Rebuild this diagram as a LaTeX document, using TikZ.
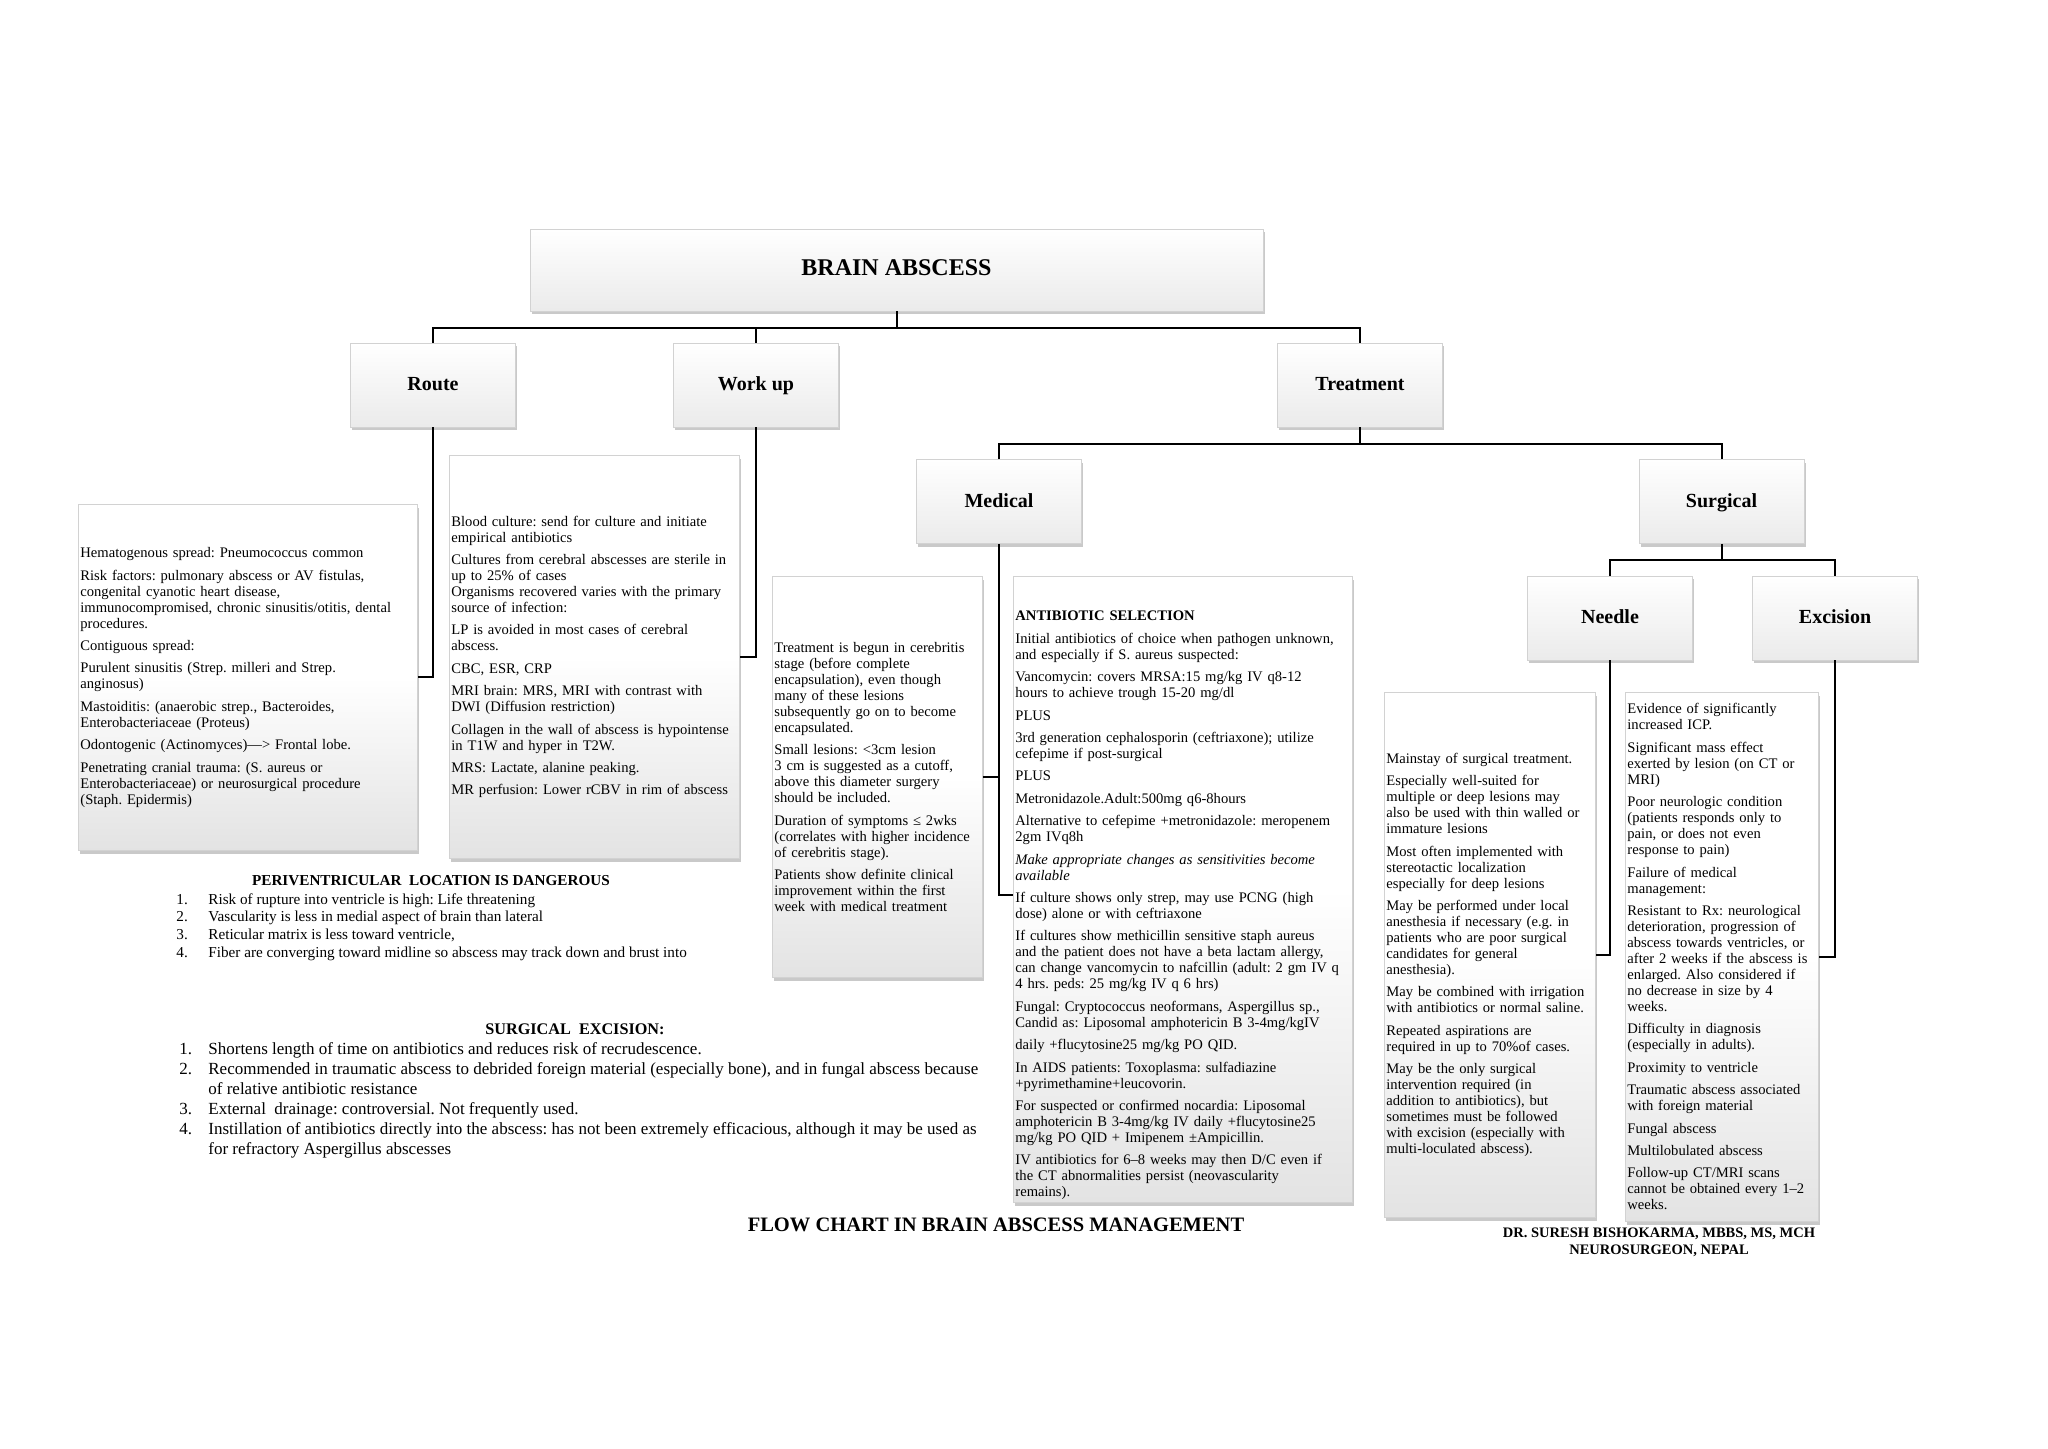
\documentclass[tikz,border=0pt]{standalone}
\usepackage{fontspec}
\setmainfont{Liberation Serif}
\frenchspacing
\hyphenpenalty=10000
\usetikzlibrary{shadows}

\begin{document}
\begin{tikzpicture}[x=0.5pt,y=-0.5pt,
head/.style={draw=gray!35,top color=white,bottom color=gray!16,drop shadow={shadow xshift=0.8pt,shadow yshift=-1.6pt,fill=gray!70,opacity=0.6},minimum width=82.5pt,minimum height=42pt,text height=1.6ex,text depth=0.3ex,font=\fontsize{10}{12}\selectfont\bfseries},
txt/.style={draw=gray!35,top color=white,bottom color=gray!22,middle color=white,drop shadow={shadow xshift=0.8pt,shadow yshift=-1.6pt,fill=gray!70,opacity=0.6},anchor=north west,align=left,inner xsep=1pt,inner ysep=2pt,font=\fontsize{7.3}{8}\selectfont},
conn/.style={line width=1pt}]
\useasboundingbox (0,0) rectangle (2048,1448);
\fill[white] (0,0) rectangle (2048,1448);
\node[head,minimum width=366.5pt,minimum height=41pt,font=\fontsize{12}{14}\selectfont\bfseries] (brain) at (896.5,270) {BRAIN ABSCESS};
\node[head] (route) at (433,385) {Route};
\node[head] (workup) at (756,385) {Work up};
\node[head] (treat) at (1360,385) {Treatment};
\node[head] (medical) at (999,501.5) {Medical};
\node[head] (surgical) at (1721.5,501.5) {Surgical};
\node[head] (needle) at (1610,618) {Needle};
\node[head] (excision) at (1835,618) {Excision};
\node[txt,text width=167.5pt,minimum height=173pt] (routetxt) at (78,504) {Hematogenous spread: Pneumococcus common\\[3.2pt]
Risk factors: pulmonary abscess or AV fistulas,\\congenital cyanotic heart disease,\\immunocompromised, chronic sinusitis/otitis, dental\\procedures.\\[3.2pt]
Contiguous spread:\\[3.2pt]
Purulent sinusitis (Strep. milleri and Strep.\\anginosus)\\[3.2pt]
Mastoiditis: (anaerobic strep., Bacteroides,\\Enterobacteriaceae (Proteus)\\[3.2pt]
Odontogenic (Actinomyces)—> Frontal lobe.\\[3.2pt]
Penetrating cranial trauma: (S. aureus or\\Enterobacteriaceae) or neurosurgical procedure\\(Staph. Epidermis)};
\node[txt,text width=143pt,minimum height=201.5pt] (worktxt) at (449,455) {Blood culture: send for culture and initiate\\empirical antibiotics\\[3.2pt]
Cultures from cerebral abscesses are sterile in\\up to 25\% of cases\\Organisms recovered varies with the primary\\source of infection:\\[3.2pt]
LP is avoided in most cases of cerebral\\abscess.\\[3.2pt]
CBC, ESR, CRP\\[3.2pt]
MRI brain: MRS, MRI with contrast with\\DWI (Diffusion restriction)\\[3.2pt]
Collagen in the wall of abscess is hypointense\\in T1W and hyper in T2W.\\[3.2pt]
MRS: Lactate, alanine peaking.\\[3.2pt]
MR perfusion: Lower rCBV in rim of abscess};
\node[txt,text width=103pt,minimum height=200.5pt] (medtxt) at (772,576) {Treatment is begun in cerebritis\\stage (before complete\\encapsulation), even though\\many of these lesions\\subsequently go on to become\\encapsulated.\\[3.2pt]
Small lesions: <3cm lesion\\3 cm is suggested as a cutoff,\\above this diameter surgery\\should be included.\\[3.2pt]
Duration of symptoms ≤ 2wks\\(correlates with higher incidence\\of cerebritis stage).\\[3.2pt]
Patients show definite clinical\\improvement within the first\\week with medical treatment};
\node[txt,text width=167.5pt,minimum height=313pt,inner ysep=0pt] (abxtxt) at (1013,576) {\rule{0pt}{21pt}\textbf{ANTIBIOTIC SELECTION}\\[3.2pt]
Initial antibiotics of choice when pathogen unknown,\\and especially if S. aureus suspected:\\[3.2pt]
Vancomycin: covers MRSA:15 mg/kg IV q8-12\\hours to achieve trough 15-20 mg/dl\\[3.2pt]
PLUS\\[3.2pt]
3rd generation cephalosporin (ceftriaxone); utilize\\cefepime if post-surgical\\[3.2pt]
PLUS\\[3.2pt]
Metronidazole.Adult:500mg q6-8hours\\[3.2pt]
Alternative to cefepime +metronidazole: meropenem\\2gm IVq8h\\[3.2pt]
\textit{Make appropriate changes as sensitivities become}\\\textit{available}\\[3.2pt]
If culture shows only strep, may use PCNG (high\\dose) alone or with ceftriaxone\\[3.2pt]
If cultures show methicillin sensitive staph aureus\\and the patient does not have a beta lactam allergy,\\can change vancomycin to nafcillin (adult: 2 gm IV q\\4 hrs. peds: 25 mg/kg IV q 6 hrs)\\[3.2pt]
Fungal: Cryptococcus neoformans, Aspergillus sp.,\\Candid as: Liposomal amphotericin B 3-4mg/kgIV\\[3.2pt]
daily +flucytosine25 mg/kg PO QID.\\[3.2pt]
In AIDS patients: Toxoplasma: sulfadiazine\\+pyrimethamine+leucovorin.\\[3.2pt]
For suspected or confirmed nocardia: Liposomal\\amphotericin B 3-4mg/kg IV daily +flucytosine25\\mg/kg PO QID + Imipenem ±Ampicillin.\\[3.2pt]
IV antibiotics for 6–8 weeks may then D/C even if\\the CT abnormalities persist (neovascularity\\remains).};
\node[txt,text width=103.5pt,minimum height=262.5pt] (needletxt) at (1384,692) {Mainstay of surgical treatment.\\[3.2pt]
Especially well-suited for\\multiple or deep lesions may\\also be used with thin walled or\\immature lesions\\[3.2pt]
Most often implemented with\\stereotactic localization\\especially for deep lesions\\[3.2pt]
May be performed under local\\anesthesia if necessary (e.g. in\\patients who are poor surgical\\candidates for general\\anesthesia).\\[3.2pt]
May be combined with irrigation\\with antibiotics or normal saline.\\[3.2pt]
Repeated aspirations are\\required in up to 70\%of cases.\\[3.2pt]
May be the only surgical\\intervention required (in\\addition to antibiotics), but\\sometimes must be followed\\with excision (especially with\\multi-loculated abscess).};
\node[txt,text width=94.5pt,minimum height=264.5pt] (exctxt) at (1625,692) {Evidence of significantly\\increased ICP.\\[3.2pt]
Significant mass effect\\exerted by lesion (on CT or\\MRI)\\[3.2pt]
Poor neurologic condition\\(patients responds only to\\pain, or does not even\\response to pain)\\[3.2pt]
Failure of medical\\management:\\[3.2pt]
Resistant to Rx: neurological\\deterioration, progression of\\abscess towards ventricles, or\\after 2 weeks if the abscess is\\enlarged. Also considered if\\no decrease in size by 4\\weeks.\\[3.2pt]
Difficulty in diagnosis\\(especially in adults).\\[3.2pt]
Proximity to ventricle\\[3.2pt]
Traumatic abscess associated\\with foreign material\\[3.2pt]
Fungal abscess\\[3.2pt]
Multilobulated abscess\\[3.2pt]
Follow-up CT/MRI scans\\cannot be obtained every 1–2\\weeks.};
\draw[conn] (brain.south) -- ++(0,17) coordinate (bar);
\draw[conn] (route.north) |- (bar) -| (treat.north);
\draw[conn] (workup.north) -- (workup.north |- bar);
\draw[conn] (treat.south) -- ++(0,17) coordinate (tbar);
\draw[conn] (medical.north) |- (tbar) -| (surgical.north);
\draw[conn] (surgical.south) -- ++(0,16) coordinate (sbar);
\draw[conn] (needle.north) |- (sbar) -| (excision.north);
\draw[conn] (route.south) |- (routetxt.east);
\draw[conn] (workup.south) |- (worktxt.east);
\draw[conn] (medical.south) |- ([yshift=-3pt]abxtxt.west);
\draw[conn] (medtxt.east) -- (medtxt.east -| medical.south);
\draw[conn] (needle.south) |- (needletxt.east);
\draw[conn] (excision.south) |- (exctxt.east);
\node[anchor=base,font=\fontsize{7.6}{9}\selectfont\bfseries] (peri) at (431,885) {PERIVENTRICULAR\ \ LOCATION IS DANGEROUS};
\node[anchor=base west,inner sep=0pt,font=\fontsize{7.6}{8.9}\selectfont] (perilist) at (176,904) {\begin{tabular}[t]{@{}p{16pt}@{}l@{}}
1. & Risk of rupture into ventricle is high: Life threatening\\
2. & Vascularity is less in medial aspect of brain than lateral\\
3. & Reticular matrix is less toward ventricle,\\
4. & Fiber are converging toward midline so abscess may track down and brust into
\end{tabular}};
\node[anchor=base,font=\fontsize{8.1}{10}\selectfont\bfseries] (exchead) at (575,1034) {SURGICAL\ \ EXCISION:};
\node[anchor=base west,inner sep=0pt,font=\fontsize{8.5}{10}\selectfont] (exclist) at (179,1054) {\begin{tabular}[t]{@{}p{14.5pt}@{}l@{}}
1. & Shortens length of time on antibiotics and reduces risk of recrudescence.\\
2. & Recommended in traumatic abscess to debrided foreign material (especially bone), and in fungal abscess because\\
 & of relative antibiotic resistance\\
3. & External\ \ drainage: controversial. Not frequently used.\\
4. & Instillation of antibiotics directly into the abscess: has not been extremely efficacious, although it may be used as\\
 & for refractory Aspergillus abscesses
\end{tabular}};
\node[anchor=base,font=\fontsize{10.25}{12}\selectfont\bfseries] (title) at (996,1231) {FLOW CHART IN BRAIN ABSCESS MANAGEMENT};
\node[anchor=north,inner sep=0pt,align=center,font=\fontsize{7.25}{8.5}\selectfont\bfseries] (author) at (1659,1227) {DR. SURESH BISHOKARMA, MBBS, MS, MCH\\NEUROSURGEON, NEPAL};
\end{tikzpicture}
\end{document}
